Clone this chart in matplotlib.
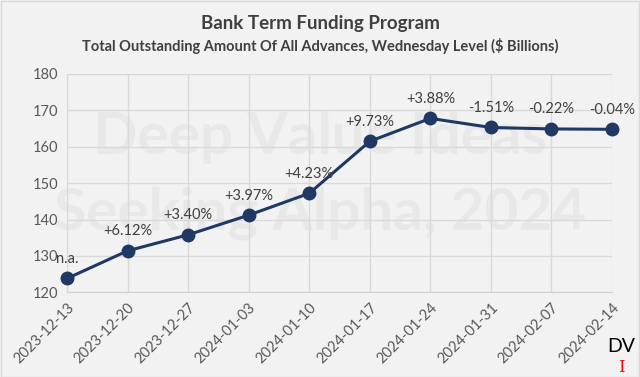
import matplotlib
matplotlib.use('Agg')
import matplotlib.pyplot as plt

plt.rcParams['font.family'] = ['Lato', 'DejaVu Sans']

# weekly BTFP balance, $ billions
dates = ['2023-12-13', '2023-12-20', '2023-12-27', '2024-01-03', '2024-01-10',
         '2024-01-17', '2024-01-24', '2024-01-31', '2024-02-07', '2024-02-14']
values = [123.8, 131.4, 135.8, 141.2, 147.2, 161.5, 167.8, 165.3, 164.9, 164.8]
labels = ['n.a.', '+6.12%', '+3.40%', '+3.97%', '+4.23%', '+9.73%', '+3.88%',
          '-1.51%', '-0.22%', '-0.04%']

bg = '#f2f2f2'
navy = '#1f3864'
txt = '#404040'

fig = plt.figure(figsize=(6.4, 3.77), dpi=100, facecolor=bg)
ax = fig.add_axes([67 / 640, 1 - 292.3 / 377, 545 / 640, 218.3 / 377])
ax.set_facecolor(bg)

x = list(range(len(dates)))
ax.plot(x, values, color=navy, lw=2.2, marker='o', ms=9, zorder=3, clip_on=False)
for xi, v, lab in zip(x, values, labels):
    ax.annotate(lab, (xi, v), xytext=(0, 9), textcoords='offset points',
                ha='center', va='bottom', fontsize=10.5, color=txt, zorder=4)

ax.set_xlim(0, len(dates) - 1)
ax.set_ylim(120, 180)
ax.set_yticks(range(120, 181, 10))
ax.set_xticks(x)
ax.set_xticklabels(dates, rotation=45, ha='right', rotation_mode='anchor')
ax.tick_params(axis='both', length=0, labelsize=10.5, colors='#595959', pad=6)
ax.grid(True, color='#d9d9d9', lw=1, zorder=1)
ax.set_axisbelow(True)
for s in ax.spines.values():
    s.set_visible(False)
ax.spines['bottom'].set_visible(True)
ax.spines['bottom'].set_color('#d0d0d0')
ax.spines['left'].set_visible(True)
ax.spines['left'].set_color('#d9d9d9')

# watermark, behind the grid
ax.text(0.5, 1 - 137 / 377, 'Deep Value Ideas', ha='center', va='center',
        fontsize=42, fontweight='bold', color='#e8e8e8', zorder=0.1,
        transform=fig.transFigure)
ax.text(0.5, 1 - 213 / 377, 'Seeking Alpha, 2024', ha='center', va='center',
        fontsize=42, fontweight='bold', color='#e8e8e8', zorder=0.1,
        transform=fig.transFigure)

fig.text(0.5, 1 - 24 / 377, 'Bank Term Funding Program', ha='center', va='center',
         fontsize=13.5, fontweight='bold', color=txt)
fig.text(0.5, 1 - 46 / 377,
         'Total Outstanding Amount Of All Advances, Wednesday Level ($ Billions)',
         ha='center', va='center', fontsize=10.5, fontweight='bold', color=txt)

fig.text(621 / 640, 1 - 347 / 377, 'DV', ha='center', va='center',
         fontsize=14, color='black')
fig.text(621 / 640, 1 - 367 / 377, 'I', ha='center', va='center',
         fontsize=12, color='red', family='DejaVu Serif')

fig.add_artist(plt.Rectangle((0.001, 0.001), 0.998, 0.997, transform=fig.transFigure,
                             fill=False, edgecolor='#d9d9d9', lw=1))

fig.savefig('out.png', dpi=100, facecolor=bg)
